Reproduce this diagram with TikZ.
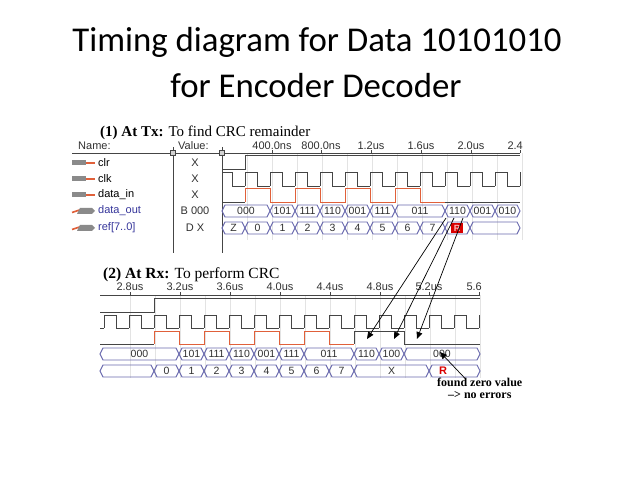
\documentclass[tikz,border=0pt]{standalone}
\usepackage{fontspec}
\setmainfont{Liberation Serif}
\newfontfamily\titlefont{Carlito}
\newfontfamily\simfont{Liberation Sans}
\usetikzlibrary{
    positioning,
    arrows.meta
}

\definecolor{wavegray}{HTML}{454545}
\definecolor{wavered}{HTML}{E0603A}
\definecolor{busblue}{HTML}{6A6AAE}
\definecolor{namblue}{HTML}{35359A}
\definecolor{icongray}{HTML}{8A8A8A}
\definecolor{textgray}{HTML}{303030}

\tikzset{
    wave/.style={draw=wavegray, line width=0.9pt},
    redwave/.style={draw=wavered, line width=0.9pt},
    busline/.style={draw=busblue, line width=0.9pt},
    buslabel/.style={font=\simfont\fontsize{10.5}{11}\selectfont, text=textgray, inner sep=0pt},
    simlabel/.style={font=\simfont\fontsize{11}{12}\selectfont, text=textgray, inner sep=0pt},
    gridline/.style={draw=gray!22, line width=0.4pt},
    sepline/.style={draw=wavegray, line width=0.7pt},
    pointer/.style={draw=black, line width=0.7pt, -{Triangle[length=7pt,width=6pt]}}
}

% one value of a bus: name, left x, right x, centre y, text
\newcommand{\busseg}[5]{%
    \draw[busline] (#2,#4) -- (#2+3,#4-6) -- (#3-3,#4-6) -- (#3,#4)
        -- (#3-3,#4+6) -- (#2+3,#4+6) -- cycle;
    \node[buslabel] (#1) at ({(#2+#3)/2},#4) {#5};
}

\begin{document}
\begin{tikzpicture}[x=1pt,y=-1pt]
    \useasboundingbox (0,0) rectangle (638,478);

    % Title
    \node[font=\titlefont\fontsize{34.8}{40}\selectfont, anchor=base, inner sep=0pt] (title1) at (317,52) {Timing diagram for Data 10101010};
    \node[font=\titlefont\fontsize{34.8}{40}\selectfont, anchor=base, inner sep=0pt] (title2) at (316,98) {for Encoder Decoder};

    % (1) Tx panel
    \node[font=\fontsize{15}{17}\selectfont, anchor=base west, inner sep=0pt] (txtitle) at (100,136.5) {\textbf{(1) At Tx:} To find CRC remainder};

    % Grid
    \foreach \x in {247,272,...,522} \draw[gridline] (\x,153) -- (\x,240);

    % Header
    \draw[sepline] (72,153) -- (520,153);
    \node[simlabel, anchor=base west] (namehead) at (78,150) {Name:};
    \node[simlabel, anchor=base west] (valhead) at (178,150) {Value:};
    \foreach[count=\i] \x/\t in {272/400.0ns, 321/800.0ns, 371/1.2us, 421/1.6us, 471/2.0us} {
        \node[simlabel, anchor=base] (txtick\i) at (\x,149.5) {\t};
        \draw[sepline] (\x,150) -- (\x,153);
    }
    \node[simlabel, anchor=base east] (txend) at (523,149.5) {2.4};
    \draw[sepline] (520,150) -- (520,153);

    % Column separators
    \draw[sepline] (173,147) -- (173,253);
    \draw[sepline] (222,147) -- (222,253);
    \draw[sepline, fill=gray!35] (170.5,150.5) rectangle (175.5,155.5);
    \draw[sepline, fill=gray!35] (219.5,150.5) rectangle (224.5,155.5);

    % Names, icons and values
    \foreach \y/\n in {163/clr, 179/clk, 195/data\_in} {
        \fill[icongray] (72,\y-2.5) rectangle (86,\y+2.5);
        \draw[wavered, line width=1.2pt] (86,\y) -- (95,\y);
        \node[simlabel, text=black, anchor=west] at (98,\y) {\n};
        \node[simlabel] at (195,\y) {X};
    }
    \foreach \y/\n/\v in {211/data\_out/B 000, 228/{ref[7..0]}/D X} {
        \draw[wavered, line width=1.6pt] (72,\y+1.5) -- (81,\y-1.5);
        \fill[icongray] (80,\y-3) -- (92,\y-3) -- (95,\y) -- (92,\y+3) -- (77,\y+3) -- cycle;
        \node[simlabel, text=namblue, anchor=west] at (98,\y) {\n};
        \node[simlabel] at (195,\y) {\v};
    }

    % clr
    \draw[wave] (222,169) -- (245,169) -- (245,155) -- (520,155);

    % clk
    \draw[wave] (222,172) -- (232.5,172) -- (232.5,186) -- (245,186);
    \foreach \x in {245,270,...,495}
        \draw[wave] (\x,186) -- (\x,172) -- (\x+12.5,172) -- (\x+12.5,186) -- (\x+25,186);
    \draw[wave] (520,186) -- (520,172);

    % data_in
    \draw[wave] (222,202) -- (245,202);
    \draw[redwave] (245,202) \foreach \x in {245,295,345,395} {
        -- (\x,188) -- (\x+25,188) -- (\x+25,202) -- (\x+50,202) };
    \draw[wave] (445,202) -- (520,202);

    % data_out
    \foreach[count=\i] \a/\b/\t in {222/270/000, 270/295/101, 295/320/111, 320/345/110,
        345/370/001, 370/395/111, 395/445/011, 445/470/110, 470/495/001, 495/520/010}
        {\busseg{txout\i}{\a}{\b}{211}{\t}}

    % ref[7..0]
    \foreach[count=\i] \a/\b/\t in {222/245/Z, 245/270/0, 270/295/1, 295/320/2, 320/345/3,
        345/370/4, 370/395/5, 395/420/6, 420/445/7, 445/470/{}, 470/520/{}}
        {\busseg{txref\i}{\a}{\b}{228}{\t}}
    \fill[red!85!black] (451,223) rectangle (463,233);
    \node[buslabel, text=red!25, font=\simfont\bfseries\fontsize{9}{10}\selectfont] (txr) at (457,228) {R};

    % (2) Rx panel
    \node[font=\fontsize{15.5}{17}\selectfont, anchor=base west, inner sep=0pt] (rxtitle) at (103,279) {\textbf{(2) At Rx:} To perform CRC};

    % Grid
    \foreach \x in {130,155,...,480} \draw[gridline] (\x,295) -- (\x,378);

    % Header
    \draw[sepline] (100,295) -- (480,295);
    \foreach[count=\i] \x/\t in {130/2.8us, 180/3.2us, 230/3.6us, 280/4.0us, 330/4.4us, 380/4.8us, 429/5.2us} {
        \node[simlabel, anchor=base] (rxtick\i) at (\x,291) {\t};
        \draw[sepline] (\x,292) -- (\x,295);
    }
    \node[simlabel, anchor=base east] (rxend) at (482,291) {5.6};
    \draw[sepline] (479,292) -- (479,295);

    % clr
    \draw[wave] (100,312) -- (154,312) -- (154,298) -- (480,298);

    % clk
    \draw[wave] (100,328) -- (104,328);
    \foreach \x in {104,129,...,454}
        \draw[wave] (\x,328) -- (\x,315) -- (\x+12.5,315) -- (\x+12.5,328) -- (\x+25,328);
    \draw[wave] (479,328) -- (479,315) -- (480,315);

    % data_in
    \draw[wave] (100,344) -- (154,344);
    \draw[redwave] (154,344) \foreach \x in {154,204,254,304} {
        -- (\x,331) -- (\x+25,331) -- (\x+25,344) -- (\x+50,344) };
    \draw[wave] (354,344) -- (354,331) -- (404,331) -- (404,344) -- (480,344);

    % data_out
    \foreach[count=\i] \a/\b/\t in {100/179/000, 179/204/101, 204/229/111, 229/254/110,
        254/279/001, 279/304/111, 304/354/011, 354/379/110, 379/404/100, 404/480/000}
        {\busseg{rxout\i}{\a}{\b}{354}{\t}}

    % ref[7..0]
    \foreach[count=\i] \a/\b/\t in {100/154/{}, 154/179/0, 179/204/1, 204/229/2, 229/254/3,
        254/279/4, 279/304/5, 304/329/6, 329/354/7, 354/429/X, 429/480/{}}
        {\busseg{rxref\i}{\a}{\b}{371}{\t}}
    \node[buslabel, text=red!85!black, font=\simfont\bfseries\fontsize{11}{12}\selectfont] (rxr) at (443,371) {R};

    % Note
    \node[font=\bfseries\fontsize{12}{13}\selectfont, inner sep=0pt, anchor=base west] (note1) at (437,387) {found zero value};
    \node[font=\bfseries\fontsize{12}{13}\selectfont, inner sep=0pt, anchor=base west] (note2) at (448,399) {--> no errors};

    % Pointers from Tx remainder to Rx
    \coordinate (src1) at (446,218);
    \coordinate (src2) at (454,218);
    \coordinate (src3) at (463,218);
    \coordinate (dst1) at (367,339);
    \coordinate (dst2) at (394,339);
    \coordinate (dst3) at (417,339);
    \foreach \i in {1,2,3} \draw[pointer] (src\i) -- (dst\i);

    \coordinate (zero) at (440,352);
    \draw[pointer] (note1.north -| 465,0) -- (zero);
\end{tikzpicture}
\end{document}
